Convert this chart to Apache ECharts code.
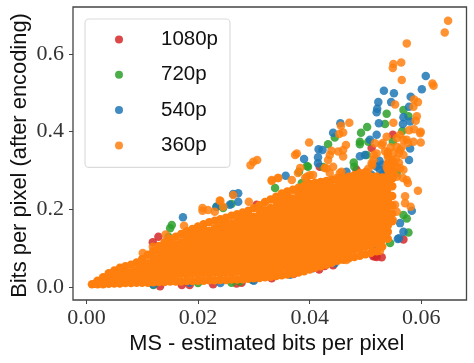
<!DOCTYPE html>
<html>
<head>
<meta charset="utf-8">
<script src="https://cdn.jsdelivr.net/npm/echarts@6/dist/echarts.min.js"></script>
<style>
html, body { margin: 0; padding: 0; background: #fff; }
#chart { width: 474px; height: 363px; }
</style>
</head>
<body>
<div id="chart"></div>
<script>
const seriesNames = ['1080p', '720p', '540p', '360p']
const seriesColors = ['#d62728', '#2ca02c', '#1f77b4', '#ff7f0e']
const xTicks = [0, 0.02, 0.04, 0.06]
const yTicks = [0, 0.2, 0.4, 0.6]

// points that stick out of the big blob
const points1080 = [[.0549,.392],[.0511,.358],[.0484,.302],[.0454,.28],[.0418,.31],[.0129,.13],[.0119,.116],[.0305,.212],
  [.0568,.123],[.0529,.077],[.0514,.08],[.052,.078],[.0517,.08],[.0417,.046],[.0427,.055],[.0442,.057],[.0371,.034],[.0332,.023],
  [.0278,.012],[.0227,.008],[.0171,.006],[.0132,.003],[.0269,.01],[.0185,.006]]
const points720 = [[.0538,.446],[.0568,.456],[.0577,.44],[.0535,.42],[.0503,.412],[.0492,.397],[.049,.374],[.049,.368],[.0445,.385],
  [.0433,.368],[.0566,.402],[.0549,.374],[.0479,.321],[.048,.31],[.0397,.31],[.0502,.34],[.0505,.374],[.0424,.309],[.0556,.294],
  [.0153,.16],[.015,.152],[.0147,.13],[.026,.214],[.0233,.207],[.0245,.204],[.0381,.297],[.0395,.312],[.0338,.255],[.0386,.268],
  [.0574,.177],[.0577,.141],[.0568,.186],[.0544,.114],[.0514,.096],[.0433,.066],[.0383,.044],[.0347,.032],[.0298,.019],[.0275,.015],
  [.02,.011],[.012,.006],[.026,.012]]
const points540 = [[.0608,.543],[.0601,.509],[.0533,.505],[.0551,.499],[.0523,.476],[.0546,.476],[.0521,.459],[.052,.45],[.0581,.49],
  [.0578,.464],[.0568,.437],[.058,.426],[.0567,.42],[.0524,.422],[.0455,.422],[.0442,.397],[.052,.392],[.0416,.355],[.0423,.353],
  [.0415,.334],[.039,.33],[.0415,.319],[.0578,.327],[.0499,.34],[.049,.337],[.0357,.287],[.0466,.297],[.0508,.379],[.058,.357],
  [.0526,.302],[.052,.31],[.053,.29],[.0535,.3],[.051,.29],[.0525,.325],[.0515,.315],[.053,.315],[.0173,.18],[.0263,.24],[.0257,.212],[.0272,.242],[.0272,.22],[.0233,.207],
  [.0583,.197],[.056,.126],[.0514,.104],[.0365,.032],[.0296,.02],[.0445,.062],[.0406,.049],[.0433,.062],[.0185,.012],[.024,.011],
  [.012,.007],[.03,.017],[.054,.169],[.0562,.165],[.0568,.143],[.0558,.124],[.0514,.098]]
const points360 = [[.0648,.685],[.0642,.655],[.0574,.627],[.0564,.578],[.055,.574],[.0549,.564],[.0565,.533],[.062,.524],[.0622,.518],
  [.0587,.483],[.0594,.476],[.0586,.464],[.0553,.47],[.0592,.44],[.059,.428],[.0471,.423],[.055,.423],[.0456,.415],[.046,.398],[.0453,.394],
  [.0578,.404],[.0587,.406],[.0598,.396],[.0599,.372],[.0586,.374],[.0399,.372],[.0576,.371],[.0465,.366],[.0377,.344],[.0374,.34],
  [.0439,.351],[.0436,.34],[.0451,.349],[.046,.336],[.0306,.327],[.0299,.323],[.0294,.314],[.0517,.37],[.0538,.387],[.0562,.392],
  [.0531,.371],[.0568,.379],[.0556,.361],[.054,.348],[.0562,.353],[.0568,.34],[.0549,.327],[.0514,.327],[.0512,.314],[.0502,.294],
  [.0383,.307],[.0379,.294],[.04,.288],[.0433,.327],[.0427,.307],[.0442,.31],[.0454,.294],[.0538,.309],[.0556,.309],[.0568,.302],
  [.0485,.288],[.0332,.276],[.0343,.281],[.0368,.276],[.0594,.248],[.0576,.268],[.0571,.234],[.0571,.216],[.0581,.207],[.0553,.212],
  [.0556,.194],[.0526,.094],[.0466,.07],[.0549,.173],[.0208,.197],[.0218,.199],[.023,.194],[.024,.222],[.0245,.207],[.0263,.237],
  [.0142,.136],[.0175,.158],[.0101,.088],[.0119,.104],[.0239,.223],[.0291,.22],[.0208,.204],[.0332,.273],[.0344,.281],
  [.0535,.35],[.054,.335],[.0545,.36],[.055,.345],[.0555,.33],[.056,.32],[.0548,.31],[.0552,.29],[.056,.345],[.0565,.36],[.0515,.34],[.0505,.305],
  [.0395,.284],[.0436,.294],[.0457,.297],[.046,.353],[.043,.306],[.0448,.281],[.0502,.297],[.0511,.319],[.052,.344],[.0529,.366],
  [.0556,.384],[.0574,.379],[.0599,.4],[.0544,.307],[.0567,.281],[.0556,.284],[.0574,.276],[.0544,.285],[.0562,.307],[.0406,.289],[.0392,.281]]

// the solid orange mass, listed column by column: [x, [y, y, ...]]
const blob360 = [
  [.001,[.008]],[.0015,[.009]],[.002,[.008,.017]],[.003,[.008,.026]],[.004,[.009,.02,.036]],[.005,[.01,.025,.043]],
  [.006,[.01,.022,.036,.05]],[.007,[.011,.026,.04,.054]],[.008,[.011,.023,.038,.058]],[.009,[.012,.028,.044,.064]],
  [.010,[.012,.025,.04,.055,.073]],[.011,[.012,.03,.046,.062,.084]],[.012,[.013,.027,.043,.059,.075,.094]],
  [.013,[.014,.032,.048,.064,.08,.096,.106]],[.014,[.014,.028,.044,.06,.076,.092,.108,.116]],
  [.015,[.015,.034,.05,.066,.082,.098,.112,.124]],[.016,[.015,.03,.046,.062,.078,.094,.11,.13]],
  [.017,[.015,.035,.052,.068,.084,.1,.116,.137]],[.018,[.016,.031,.047,.063,.079,.095,.111,.127,.144]],
  [.019,[.016,.036,.053,.069,.085,.101,.117,.133,.15]],[.020,[.017,.032,.048,.064,.08,.096,.112,.128,.144,.156]],
  [.021,[.017,.037,.054,.07,.086,.102,.118,.134,.15,.162]],[.022,[.018,.033,.049,.065,.081,.097,.113,.129,.145,.167]],
  [.023,[.018,.038,.055,.071,.087,.103,.119,.135,.151,.171]],[.024,[.019,.034,.05,.066,.082,.098,.114,.13,.146,.162,.175]],
  [.025,[.019,.039,.056,.072,.088,.104,.12,.136,.152,.168,.179]],[.026,[.02,.035,.051,.067,.083,.099,.115,.131,.147,.163,.184]],
  [.027,[.02,.04,.057,.073,.089,.105,.121,.137,.153,.169,.188]],[.028,[.021,.036,.052,.068,.084,.1,.116,.132,.148,.164,.18,.192]],
  [.029,[.022,.041,.058,.074,.09,.106,.122,.138,.154,.17,.186,.197]],[.030,[.023,.037,.053,.069,.085,.101,.117,.133,.149,.165,.181,.203]],
  [.031,[.024,.042,.059,.075,.091,.107,.123,.139,.155,.171,.187,.203,.211]],
  [.032,[.026,.038,.054,.07,.086,.102,.118,.134,.15,.166,.182,.198,.219]],
  [.033,[.027,.043,.06,.076,.092,.108,.124,.14,.156,.172,.188,.204,.226]],
  [.034,[.029,.045,.061,.077,.093,.109,.125,.141,.157,.173,.189,.205,.221,.233]],
  [.035,[.031,.05,.066,.082,.098,.114,.13,.146,.162,.178,.194,.21,.226,.241]],
  [.036,[.033,.046,.062,.078,.094,.11,.126,.142,.158,.174,.19,.206,.222,.238,.246]],
  [.037,[.035,.052,.068,.084,.1,.116,.132,.148,.164,.18,.196,.212,.228,.251]],
  [.038,[.038,.05,.066,.082,.098,.114,.13,.146,.162,.178,.194,.21,.226,.242,.256]],
  [.039,[.041,.056,.072,.088,.104,.12,.136,.152,.168,.184,.2,.216,.232,.248,.261]],
  [.040,[.046,.06,.076,.092,.108,.124,.14,.156,.172,.188,.204,.22,.236,.252,.266]],
  [.041,[.05,.066,.082,.098,.114,.13,.146,.162,.178,.194,.21,.226,.242,.258,.269]],
  [.042,[.054,.07,.086,.102,.118,.134,.15,.166,.182,.198,.214,.23,.246,.262,.271]],
  [.043,[.058,.075,.091,.107,.123,.139,.155,.171,.187,.203,.219,.235,.251,.267,.273]],
  [.044,[.063,.08,.096,.112,.128,.144,.16,.176,.192,.208,.224,.24,.256,.276]],
  [.045,[.068,.084,.1,.116,.132,.148,.164,.18,.196,.212,.228,.244,.26,.278]],
  [.046,[.071,.089,.105,.121,.137,.153,.169,.185,.201,.217,.233,.249,.265,.281]],
  [.047,[.075,.092,.108,.124,.14,.156,.172,.188,.204,.22,.236,.252,.268,.284]],
  [.048,[.078,.097,.113,.129,.145,.161,.177,.193,.209,.225,.241,.257,.273,.288]],
  [.049,[.081,.1,.116,.132,.148,.164,.18,.196,.212,.228,.244,.26,.276,.293]],
  [.050,[.085,.105,.121,.137,.153,.169,.185,.201,.217,.233,.249,.265,.281,.296]],
  [.051,[.089,.108,.124,.14,.156,.172,.188,.204,.22,.236,.252,.268,.284]],
  [.052,[.093,.113,.129,.145,.161,.177,.193,.209,.225,.241,.257,.273,.285]],
  [.053,[.105,.122,.138,.154,.17,.186,.202,.218,.234,.25,.266,.282]],
  [.054,[.125,.143,.159,.175,.191,.207,.223,.239,.255,.271,.287,.303,.319,.341]],
  [.0548,[.17,.19,.21,.235,.26,.28,.3,.32]]
]

// flatten the columns into data items, the mass is drawn without transparency so it reads as solid
let blobPoints = []
blob360.forEach(col => col[1].forEach(y => blobPoints.push({ value: [col[0], y], itemStyle: { opacity: 1 } })))

const seriesData = [points1080, points720, points540, points360.concat(blobPoints)]

let myChart = echarts.init(document.getElementById('chart'), null, { renderer: 'canvas' })
myChart.setOption({
  animation: false,
  backgroundColor: '#fff',
  grid: {
    show: true,
    outerBoundsMode: 'none', // keep the plot box where it is, labels are placed by hand
    left: 73,
    right: 7.5,
    top: 7,
    bottom: 63,
    borderColor: '#444',
    borderWidth: 1.3,
    backgroundColor: '#fff'
  },
  legend: {
    left: 85,
    top: 19,
    orient: 'vertical',
    icon: 'circle',
    itemWidth: 8,
    itemHeight: 8,
    itemGap: 14.3,
    padding: [10, 12, 11.5, 30],
    backgroundColor: '#fff',
    borderColor: '#dcdcdc',
    borderWidth: 1.2,
    borderRadius: 4,
    textStyle: {
      fontFamily: 'Liberation Sans',
      fontSize: 20.5,
      color: '#111',
      padding: [0, 0, 0, 33]
    },
    data: seriesNames
  },
  xAxis: {
    type: 'value',
    min: -0.0024,
    max: 0.0681,
    splitLine: { show: false },
    axisLine: { show: false, onZero: false },
    axisTick: { show: true, length: 4, customValues: xTicks, lineStyle: { color: '#444', width: 1 } },
    axisLabel: {
      customValues: xTicks,
      formatter: v => v.toFixed(2),
      fontFamily: 'Liberation Serif',
      fontSize: 22,
      color: '#333',
      margin: 7
    },
    name: 'MS - estimated bits per pixel',
    nameLocation: 'middle',
    nameGap: 33,
    nameMoveOverlap: false,
    nameTextStyle: { fontFamily: 'Liberation Sans', fontSize: 21.8, color: '#111', padding: [0, 6, 0, 0] }
  },
  yAxis: {
    type: 'value',
    min: -0.0326,
    max: 0.7205,
    splitLine: { show: false },
    axisLine: { show: false, onZero: false },
    axisTick: { show: true, length: 4, customValues: yTicks, lineStyle: { color: '#444', width: 1 } },
    axisLabel: {
      customValues: yTicks,
      formatter: v => v.toFixed(1),
      fontFamily: 'Liberation Serif',
      fontSize: 22,
      color: '#333',
      margin: 9
    },
    name: 'Bits per pixel (after encoding)',
    nameLocation: 'middle',
    nameGap: 42,
    nameMoveOverlap: false,
    nameTextStyle: { fontFamily: 'Liberation Sans', fontSize: 21.9, color: '#111', padding: [0, 4, 0, 0] }
  },
  series: seriesNames.map((name, i) => ({
    name: name,
    type: 'scatter',
    data: seriesData[i],
    symbol: 'circle',
    symbolSize: 8.5,
    progressive: 0,
    large: false,
    itemStyle: { color: seriesColors[i], opacity: 0.85 }
  }))
})
window.addEventListener('resize', function () {
  myChart.resize()
})
</script>
</body>
</html>
